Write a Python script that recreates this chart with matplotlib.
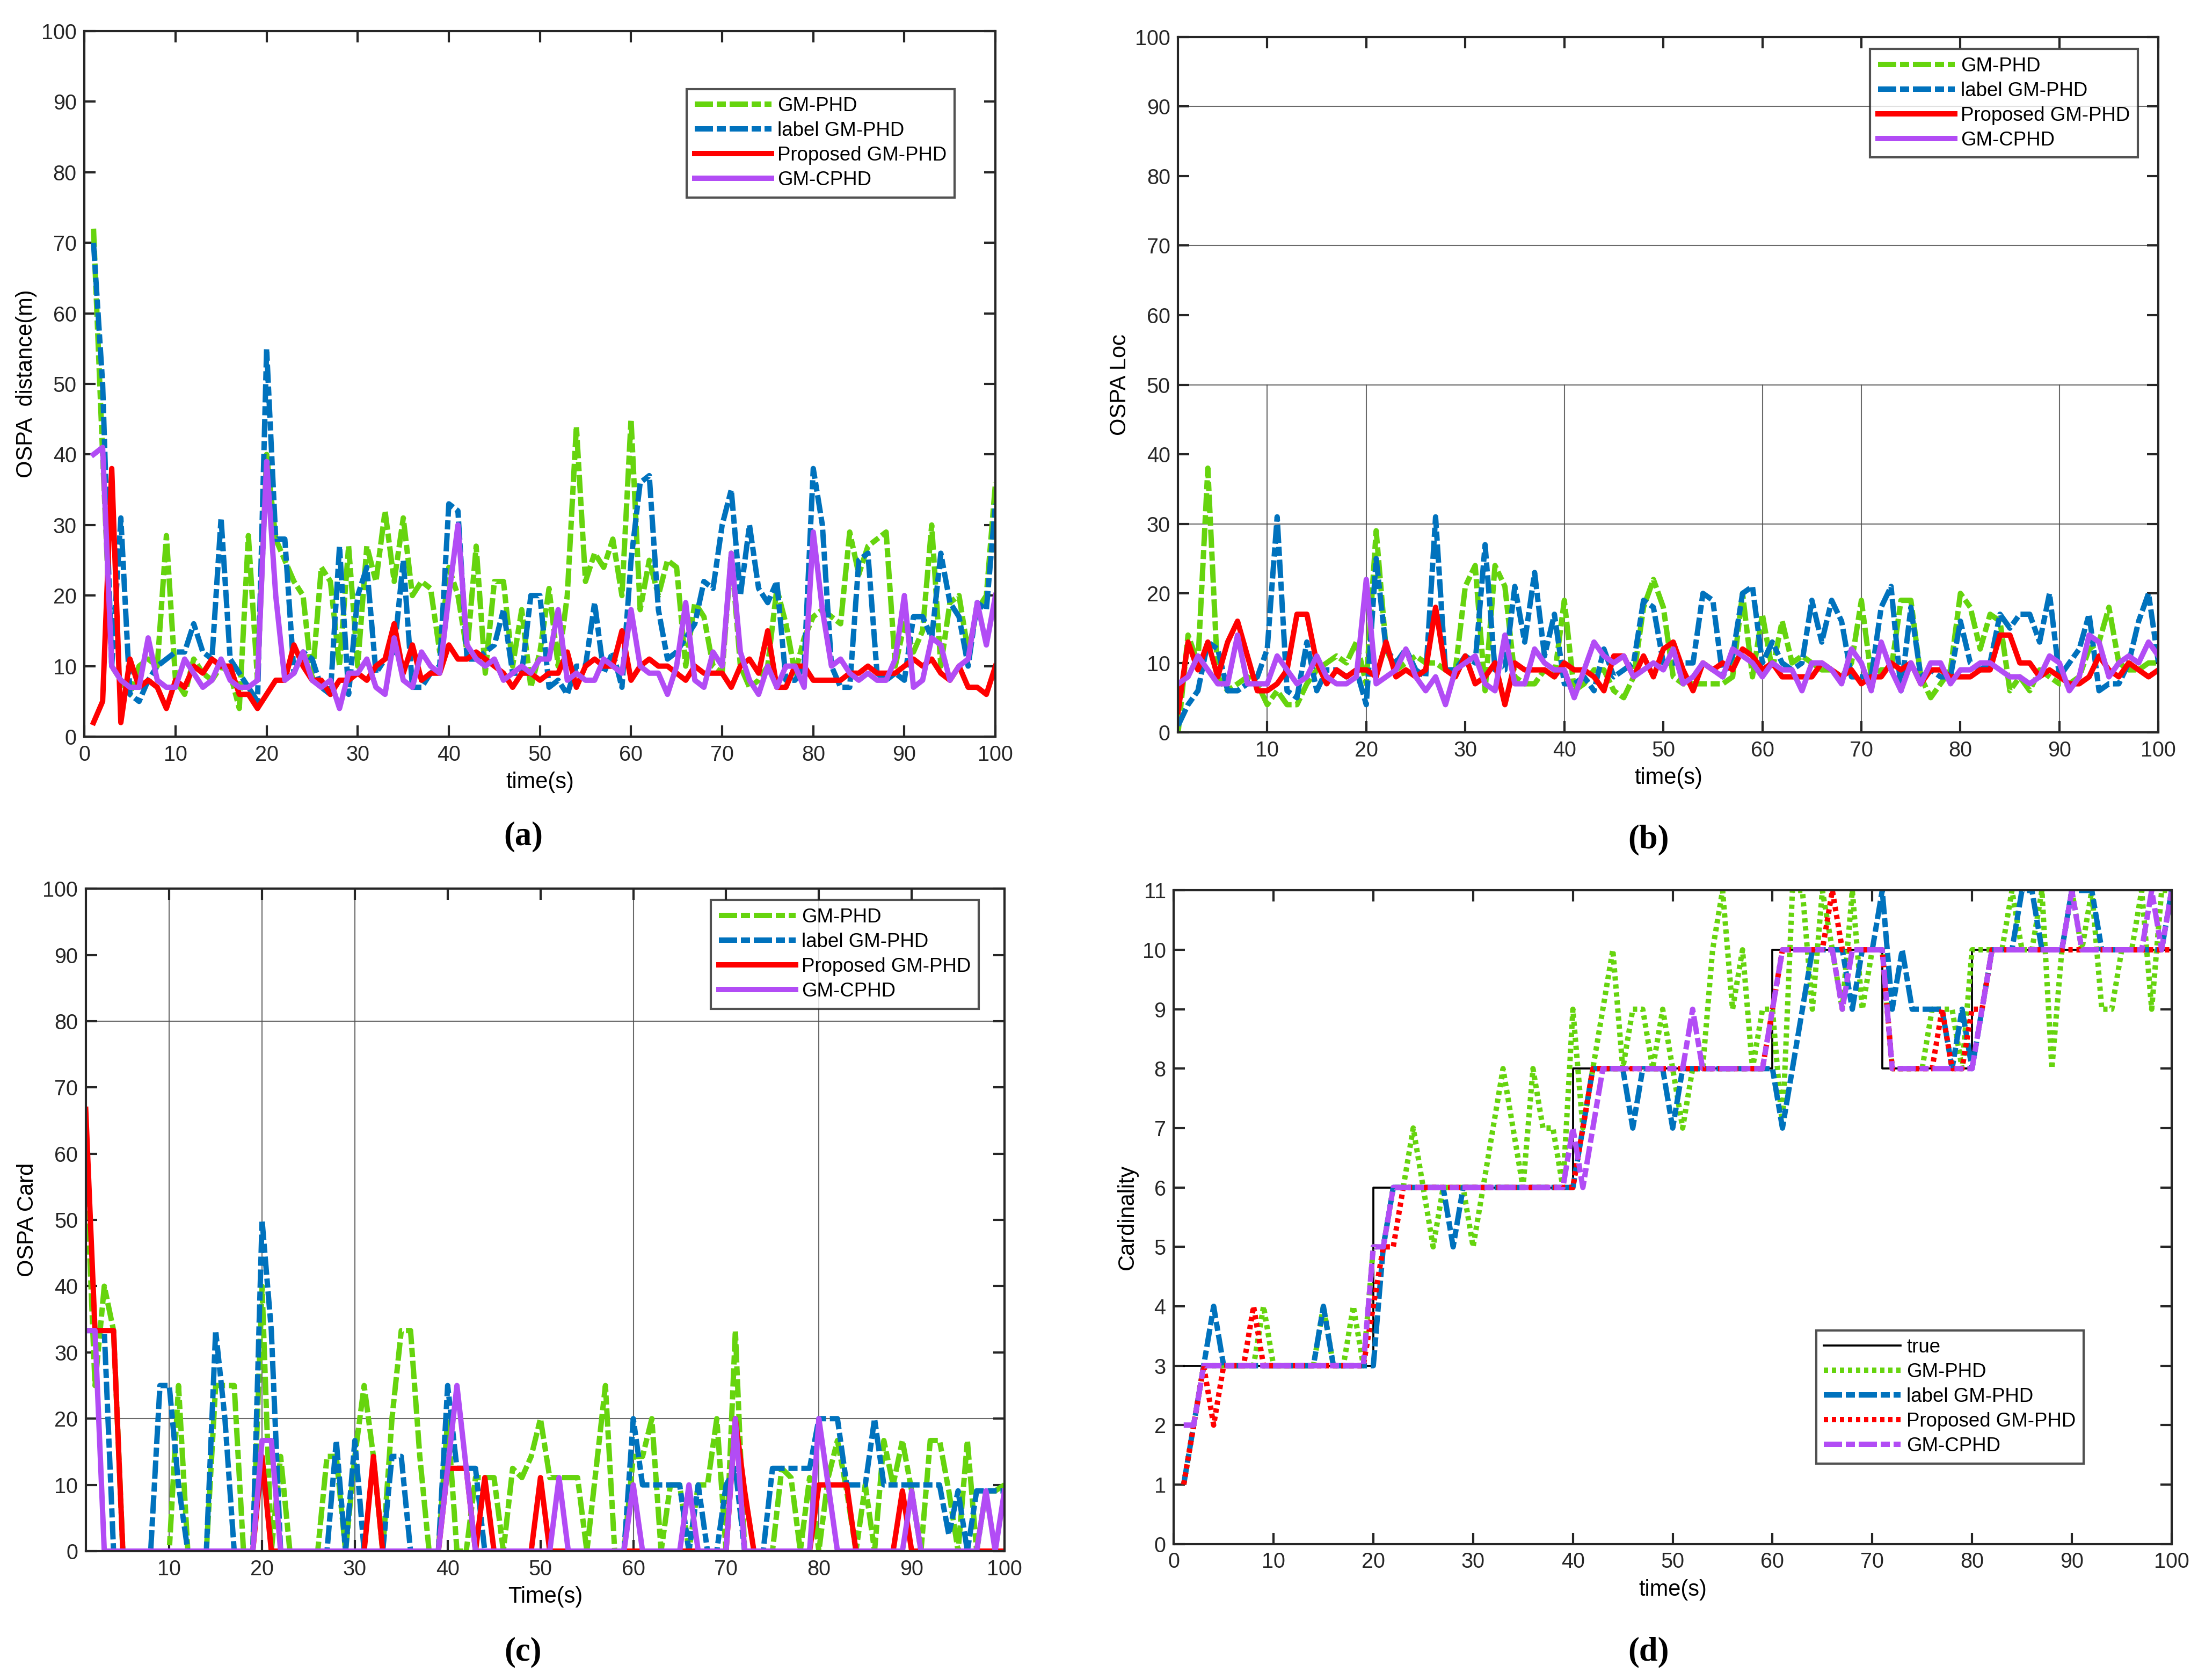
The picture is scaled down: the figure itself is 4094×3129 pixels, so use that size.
import numpy as np
import matplotlib
matplotlib.use("Agg")
from matplotlib import pyplot as plt

plt.rcParams['font.family'] = ['Liberation Sans Narrow', 'Liberation Sans', 'DejaVu Sans']

t = np.arange(1, 101)

# ---- (a) OSPA distance ----
a_gmphd = [72, 40, 10, 8, 6, 10, 11, 10, 28.5, 8, 6, 11, 9, 8, 10, 9, 4, 28.5, 8, 40,
           28, 25, 22, 20, 8, 24, 22, 10, 27, 10, 27, 22, 32, 22, 31, 20, 22, 21, 12, 24,
           20, 12, 27, 9, 22, 22, 10, 18, 7, 12, 21, 10, 20, 44, 22, 26, 24, 28, 20, 45,
           18, 25, 20, 25, 24, 10, 19, 17, 10, 9, 26, 10, 7, 8, 10, 21, 16, 9, 14, 17,
           18, 17, 16, 29, 23, 27, 28, 29, 10, 16, 12, 15, 30, 10, 19, 20, 12, 18, 20, 36]
a_label = [70, 50, 10, 31, 6, 5, 8, 10, 11, 12, 12, 16, 12, 11, 31, 11, 9, 7, 5, 55,
           28, 28, 9, 12, 11, 7, 6, 27, 6, 20, 24, 9, 11, 12, 25, 7, 7, 9, 10, 33,
           32, 11, 11, 12, 13, 18, 9, 9, 20, 20, 7, 8, 6, 10, 10, 19, 9, 12, 7, 25,
           36, 37, 18, 11, 12, 14, 16, 22, 21, 30, 35, 20, 30, 21, 19, 22, 8, 8, 10, 38,
           30, 10, 7, 7, 25, 26, 9, 8, 9, 8, 17, 17, 14, 26, 19, 17, 10, 19, 18, 33]
a_prop = [2, 5, 38, 2, 11, 7, 8, 7, 4, 8, 7, 10, 9, 11, 10, 10, 6, 6, 4, 6,
          8, 8, 13, 10, 8, 8, 6, 8, 8, 9, 8, 10, 11, 16, 9, 13, 8, 9, 9, 13,
          11, 11, 12, 11, 10, 9, 7, 9, 9, 8, 9, 9, 12, 7, 10, 11, 10, 10, 15, 8,
          10, 11, 10, 10, 9, 8, 10, 9, 9, 9, 7, 10, 11, 9, 15, 7, 7, 10, 10, 8,
          8, 8, 8, 9, 9, 10, 9, 9, 9, 10, 11, 10, 11, 9, 8, 10, 7, 7, 6, 10]
a_cphd = [40, 41, 10, 8, 7, 7, 14, 8, 7, 7, 11, 9, 7, 8, 11, 8, 7, 7, 8, 39,
          20, 8, 9, 12, 8, 7, 8, 4, 9, 9, 11, 7, 6, 14, 8, 7, 12, 10, 9, 20,
          30, 13, 11, 10, 11, 8, 9, 10, 9, 11, 11, 18, 8, 9, 8, 8, 11, 10, 9, 18,
          10, 9, 9, 6, 10, 19, 8, 7, 12, 10, 26, 12, 8, 6, 10, 7, 10, 10, 7, 29,
          18, 10, 11, 9, 8, 9, 8, 8, 11, 20, 7, 8, 14, 13, 8, 10, 11, 19, 13, 20]

# ---- (b) OSPA Loc ----
b_gmphd = [0, 14, 10, 38, 8, 6, 7, 8, 7, 4, 6, 4, 4, 7, 9, 10, 11, 10, 13, 7,
           29, 12, 9, 10, 11, 10, 10, 9, 9, 21, 24, 6, 24, 21, 8, 7, 7, 9, 8, 19,
           6, 7, 9, 9, 6, 5, 8, 18, 22, 18, 8, 7, 7, 7, 7, 7, 8, 20, 8, 17,
           9, 16, 10, 11, 10, 9, 9, 8, 10, 19, 8, 9, 9, 19, 19, 8, 5, 7, 9, 20,
           18, 12, 17, 16, 6, 8, 6, 9, 8, 7, 7, 8, 12, 13, 18, 10, 9, 9, 10, 10]
b_label = [1, 4, 6, 13, 12, 6, 6, 7, 8, 12, 31, 6, 5, 13, 6, 9, 9, 8, 9, 4,
           25, 12, 10, 12, 9, 8, 31, 9, 9, 11, 10, 27, 9, 9, 21, 13, 23, 11, 17, 7,
           7, 8, 6, 12, 8, 9, 10, 19, 18, 10, 10, 10, 10, 20, 19, 8, 11, 20, 21, 10,
           13, 10, 9, 10, 19, 13, 19, 16, 8, 8, 8, 18, 21, 6, 18, 8, 9, 8, 8, 16,
           10, 9, 10, 17, 15, 17, 17, 13, 20, 8, 10, 12, 17, 6, 7, 7, 10, 16, 20, 10]
b_prop = [3, 13, 9, 13, 8, 13, 16, 11, 6, 6, 7, 9, 17, 17, 10, 7, 9, 8, 9, 9,
          8, 13, 8, 9, 8, 9, 18, 9, 8, 11, 7, 8, 10, 4, 10, 9, 9, 9, 8, 10,
          9, 9, 8, 6, 11, 11, 8, 11, 8, 12, 13, 9, 6, 10, 9, 10, 9, 12, 11, 9,
          10, 8, 8, 8, 8, 10, 9, 8, 9, 7, 8, 8, 10, 9, 10, 7, 9, 9, 8, 8,
          8, 9, 9, 14, 14, 10, 10, 8, 9, 8, 7, 7, 8, 11, 9, 8, 10, 9, 8, 9]
b_cphd = [7, 8, 11, 9, 7, 7, 14, 7, 7, 7, 11, 9, 7, 8, 11, 8, 7, 7, 8, 22,
          7, 8, 9, 12, 8, 6, 8, 4, 9, 10, 11, 7, 6, 14, 7, 7, 12, 10, 9, 9,
          5, 9, 13, 11, 10, 11, 8, 9, 10, 9, 12, 7, 8, 10, 9, 8, 12, 11, 10, 8,
          10, 9, 9, 6, 10, 10, 9, 7, 12, 10, 6, 13, 9, 6, 10, 7, 10, 10, 7, 9,
          9, 10, 10, 9, 8, 8, 7, 8, 11, 10, 6, 8, 14, 13, 8, 10, 11, 10, 13, 11]

# ---- (c) OSPA Card ----
c_gmphd = [60, 25, 40, 33.3, 0, 0, 0, 0, 0, 0, 25, 0, 0, 0, 25, 25, 25, 0, 0, 40,
           0, 14.3, 0, 0, 0, 0, 14.3, 14.3, 0, 14.3, 25, 14.3, 0, 20, 33.3, 33.3, 14.3, 0, 0, 20,
           0, 0, 11.1, 11.1, 11.1, 0, 12.5, 11.1, 14.3, 20, 11.1, 11.1, 11.1, 11.1, 0, 12.5, 25, 0, 0, 14.3,
           14.3, 20, 0, 10, 10, 0, 10, 10, 20, 0, 33.3, 0, 0, 0, 0, 12.5, 11.1, 0, 11.1, 0,
           11.1, 16.7, 9.1, 0, 10, 0, 16.7, 10, 16.7, 9.1, 0, 16.7, 16.7, 9.1, 0, 16.7, 0, 9.1, 9.1, 10]
c_label = [33.3, 33.3, 33.3, 0, 0, 0, 0, 0, 25, 25, 10, 0, 0, 0, 33.3, 20, 0, 0, 0, 50,
           33.3, 0, 0, 0, 0, 0, 0, 16.7, 0, 16.7, 0, 0, 0, 14.3, 14.3, 0, 0, 0, 0, 25,
           12.5, 12.5, 12.5, 0, 0, 0, 0, 0, 0, 0, 0, 0, 0, 0, 0, 0, 0, 0, 0, 20,
           10, 10, 10, 10, 10, 0, 10, 0, 0, 10, 12.5, 0, 0, 0, 12.5, 12.5, 12.5, 12.5, 12.5, 20,
           20, 20, 10, 10, 10, 20, 10, 10, 10, 10, 10, 10, 10, 2.5, 9.1, 0, 9.1, 9.1, 9.1, 9.1]
c_prop = [66.7, 33.3, 33.3, 33.3, 0, 0, 0, 0, 0, 0, 0, 0, 0, 0, 0, 0, 0, 0, 0, 14.3,
          0, 0, 0, 0, 0, 0, 0, 0, 0, 0, 0, 14.3, 0, 0, 0, 0, 0, 0, 0, 12.5,
          12.5, 12.5, 0, 11.1, 0, 0, 0, 0, 0, 11.1, 0, 0, 0, 0, 0, 0, 0, 0, 0, 0,
          0, 0, 0, 0, 0, 0, 0, 0, 0, 0, 20, 9.1, 0, 0, 0, 0, 0, 0, 0, 10,
          10, 10, 10, 0, 0, 0, 0, 0, 9.1, 0, 0, 0, 0, 0, 0, 0, 0, 0, 0, 0]
c_cphd = [33.3, 33.3, 0, 0, 0, 0, 0, 0, 0, 0, 0, 0, 0, 0, 0, 0, 0, 0, 0, 16.7,
          16.7, 0, 0, 0, 0, 0, 0, 0, 0, 0, 0, 0, 0, 0, 0, 0, 0, 0, 0, 12.5,
          25, 12.5, 0, 0, 0, 0, 0, 0, 0, 0, 0, 11.1, 0, 0, 0, 0, 0, 0, 0, 10,
          0, 0, 0, 0, 0, 10, 0, 0, 0, 0, 20, 0, 0, 0, 0, 0, 0, 0, 0, 20,
          10, 0, 0, 0, 0, 0, 0, 0, 0, 9.1, 0, 0, 0, 0, 0, 0, 0, 9.1, 0, 9.1]

# ---- (d) Cardinality ----
d_true = [3] * 19 + [6] * 20 + [8] * 20 + [10] * 11 + [8] * 9 + [10] * 21
d_gmphd = [1, 2, 3, 3, 3, 3, 3, 3, 4, 3, 3, 3, 3, 3, 4, 3, 3, 4, 3, 5,
           5, 6, 6, 7, 6, 5, 6, 6, 6, 5, 6, 7, 8, 7, 6, 8, 7, 7, 6, 9,
           7, 8, 9, 10, 8, 9, 9, 8, 9, 8, 7, 8, 8, 10, 11, 9, 10, 8, 9, 9,
           7, 11, 11, 9, 11, 10, 9, 11, 9, 10, 10, 8, 8, 8, 8, 9, 9, 9, 8, 10,
           10, 10, 10, 11, 10, 10, 11, 8, 10, 11, 10, 11, 9, 9, 10, 10, 11, 9, 11, 11]
d_label = [1, 2, 3, 4, 3, 3, 3, 3, 3, 3, 3, 3, 3, 3, 4, 3, 3, 3, 3, 3,
           5, 6, 6, 6, 6, 6, 6, 5, 6, 6, 6, 6, 6, 6, 6, 6, 6, 6, 6, 6,
           7, 8, 8, 8, 8, 7, 8, 8, 8, 7, 8, 8, 8, 8, 8, 8, 8, 8, 8, 8,
           7, 8, 9, 10, 10, 10, 10, 9, 10, 10, 11, 9, 10, 9, 9, 9, 9, 8, 9, 8,
           9, 10, 10, 10, 11, 11, 10, 10, 10, 11, 11, 11, 10, 10, 10, 10, 10, 10, 10, 11]
d_prop = [1, 2, 3, 2, 3, 3, 3, 4, 3, 3, 3, 3, 3, 3, 3, 3, 3, 3, 3, 4,
          5, 5, 6, 6, 6, 6, 6, 6, 6, 6, 6, 6, 6, 6, 6, 6, 6, 6, 6, 6,
          7, 8, 8, 8, 8, 8, 8, 8, 8, 8, 8, 8, 8, 8, 8, 8, 8, 8, 8, 9,
          10, 10, 10, 10, 10, 11, 10, 10, 10, 10, 10, 8, 8, 8, 8, 8, 9, 8, 8, 9,
          9, 10, 10, 10, 10, 10, 10, 10, 10, 10, 10, 10, 10, 10, 10, 10, 10, 10, 10, 10]
d_cphd = [2, 2, 3, 3, 3, 3, 3, 3, 3, 3, 3, 3, 3, 3, 3, 3, 3, 3, 3, 5,
          5, 6, 6, 6, 6, 6, 6, 6, 6, 6, 6, 6, 6, 6, 6, 6, 6, 6, 6, 7,
          6, 7, 8, 8, 8, 8, 8, 8, 8, 8, 8, 9, 8, 8, 8, 8, 8, 8, 8, 9,
          10, 10, 10, 10, 10, 10, 9, 10, 10, 10, 10, 8, 8, 8, 8, 8, 8, 8, 8, 8,
          9, 10, 10, 10, 10, 10, 10, 10, 10, 11, 10, 10, 10, 10, 10, 10, 10, 11, 10, 11]

names = ['GM-PHD', 'label GM-PHD', 'Proposed GM-PHD', 'GM-CPHD']
c_green = '#66d40e'
c_blue = '#0072bd'
c_red = '#ff0000'
c_purple = '#b24cf5'

tick_fs = 9.5
lab_fs = 10
leg_fs = 8.8
lw = 2.4
dashdot = (0, (3.4, 0.7, 1.7, 0.7))
dots = (0, (0.8, 0.7))
sans = ['Liberation Sans', 'DejaVu Sans']
grid_kw = dict(color='#505050', lw=0.5, alpha=0.85, zorder=0.5)


def style_axes(ax):
    ax.tick_params(direction='in', top=True, right=True, labelsize=tick_fs,
                   length=5, width=1.0, colors='#262626')
    for s in ax.spines.values():
        s.set_linewidth(1.0)
        s.set_color('#262626')


def add_legend(ax, anchor):
    leg = ax.legend(loc='upper right', bbox_to_anchor=anchor,
                    prop={'family': sans, 'size': leg_fs},
                    frameon=True, fancybox=False, edgecolor='#262626', handlelength=3.9,
                    borderpad=0.4, labelspacing=0.3, handletextpad=0.3, borderaxespad=0)
    leg.get_frame().set_linewidth(1.0)


def ospa_panel(ax, data, ylabel, xlabel, legend_anchor, xmin):
    ax.plot(t, data[0], color=c_green, lw=lw, ls=dashdot, label=names[0])
    ax.plot(t, data[1], color=c_blue, lw=lw, ls=dashdot, label=names[1])
    ax.plot(t, data[2], color=c_red, lw=lw, label=names[2])
    ax.plot(t, data[3], color=c_purple, lw=lw, label=names[3])
    ax.set_xlim(xmin, 100)
    ax.set_ylim(0, 100)
    ax.set_yticks(np.arange(0, 101, 10))
    if xmin == 0:
        ax.set_xticks(np.arange(0, 101, 10))
    else:
        ax.set_xticks(np.arange(10, 101, 10))
    ax.set_ylabel(ylabel, fontsize=lab_fs, family=sans, labelpad=2)
    ax.set_xlabel(xlabel, fontsize=lab_fs, labelpad=3)
    add_legend(ax, legend_anchor)
    style_axes(ax)


fig = plt.figure(figsize=(4094 / 300, 3129 / 300), dpi=300)

ax_a = fig.add_axes([0.0384, 0.5615, 0.4145, 0.42])
ospa_panel(ax_a, [a_gmphd, a_label, a_prop, a_cphd], 'OSPA  distance(m)', 'time(s)', (0.955, 0.918), 0)

# grid lines as they survive in the original raster
ax_b = fig.add_axes([0.536, 0.564, 0.446, 0.414])
ospa_panel(ax_b, [b_gmphd, b_label, b_prop, b_cphd], 'OSPA Loc', 'time(s)', (0.979, 0.983), 1)
for gy in [30, 50, 70, 90]:
    ax_b.axhline(gy, **grid_kw)
for gx in [10, 20, 40, 60, 70, 90]:
    ax_b.axvline(gx, ymin=0, ymax=0.5, **grid_kw)

ax_c = fig.add_axes([0.039, 0.0767, 0.418, 0.3943])
ospa_panel(ax_c, [c_gmphd, c_label, c_prop, c_cphd], 'OSPA Card', 'Time(s)', (0.972, 0.983), 1)
for gy in [20, 80]:
    ax_c.axhline(gy, **grid_kw)
for gx in [10, 20, 30, 60, 80]:
    ax_c.axvline(gx, **grid_kw)

ax_d = fig.add_axes([0.534, 0.081, 0.454, 0.389])
ax_d.step(t, d_true, where='post', color='black', lw=0.9, label='true')
ax_d.plot(t, d_gmphd, color=c_green, lw=lw, ls=dots, label='GM-PHD')
ax_d.plot(t, d_label, color=c_blue, lw=lw, ls=dashdot, label='label GM-PHD')
ax_d.plot(t, d_prop, color=c_red, lw=lw, ls=dots, label='Proposed GM-PHD')
ax_d.plot(t, d_cphd, color=c_purple, lw=lw, ls=dashdot, label='GM-CPHD')
ax_d.set_xlim(0, 100)
ax_d.set_ylim(0, 11)
ax_d.set_xticks(np.arange(0, 101, 10))
ax_d.set_yticks(np.arange(0, 12, 1))
ax_d.set_ylabel('Cardinality', fontsize=lab_fs, family=sans, labelpad=2)
ax_d.set_xlabel('time(s)', fontsize=lab_fs, labelpad=3)
add_legend(ax_d, (0.912, 0.327))
style_axes(ax_d)

serif = ['Liberation Serif', 'DejaVu Serif']
fig.text(0.238, 0.502, '(a)', ha='center', va='center', fontsize=15, family=serif, weight='bold')
fig.text(0.75, 0.5, '(b)', ha='center', va='center', fontsize=15, family=serif, weight='bold')
fig.text(0.238, 0.0166, '(c)', ha='center', va='center', fontsize=15, family=serif, weight='bold')
fig.text(0.75, 0.0166, '(d)', ha='center', va='center', fontsize=15, family=serif, weight='bold')

fig.savefig('out.png', dpi=300)
